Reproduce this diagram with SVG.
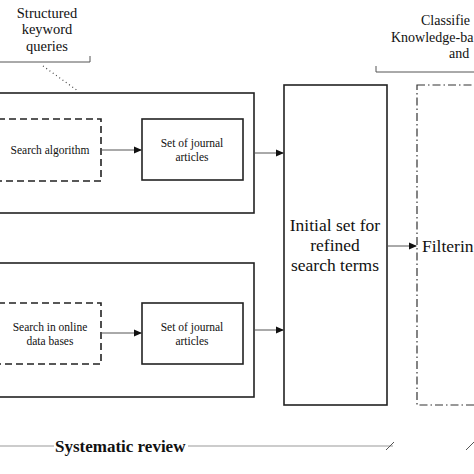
<svg xmlns="http://www.w3.org/2000/svg" width="474" height="474" viewBox="0 0 474 474">
<style>
text{font-family:"Liberation Serif","Times New Roman",serif;fill:#111}
.box{fill:#fff;stroke:#222;stroke-width:1.6}
.sm{font-size:11.5px}
.dash{fill:#fff;stroke:#222;stroke-width:1.6;stroke-dasharray:7,4}
.dd{fill:#fff;stroke:#333;stroke-width:1.2;stroke-dasharray:8,3,1.5,3}
.ln{stroke:#555;stroke-width:1;fill:none}
.thin{stroke:#999;stroke-width:1;fill:none}
</style>
<defs>
<marker id="ah" markerWidth="8" markerHeight="8" refX="7" refY="4" orient="auto" markerUnits="userSpaceOnUse">
<path d="M0,0.5 L8,4 L0,7.5 Z" fill="#111"/>
</marker>
</defs>
<rect width="474" height="474" fill="#fff"/>
<g id="annot-left">
<text x="47" y="18" font-size="14.5" text-anchor="middle">Structured</text>
<text x="47" y="34" font-size="14.5" text-anchor="middle">keyword</text>
<text x="47" y="51" font-size="14.5" text-anchor="middle">queries</text>
<path d="M0,62 H90 V56" class="ln" stroke="#222"/>
<path d="M43,66 L78,91" stroke="#444" stroke-width="1.2" stroke-dasharray="1,3" fill="none"/>
</g>
<g id="annot-right">
<text x="421" y="25" font-size="14">Classifie</text>
<text x="391" y="42" font-size="14">Knowledge-ba</text>
<text x="449" y="58" font-size="14">and</text>
<path d="M376,66 V72 H474" class="ln" stroke="#222"/>
</g>
<g id="top-group"><rect x="-2" y="93" width="256" height="120" class="box"/></g>
<g id="search-algorithm"><rect x="-2" y="119" width="103" height="62" class="dash"/>
<text x="50" y="154" class="sm" text-anchor="middle">Search algorithm</text></g>
<g id="set-top"><rect x="142" y="119" width="101" height="61" class="box" stroke-width="1.2"/>
<text x="192" y="147" class="sm" text-anchor="middle">Set of journal</text>
<text x="192" y="161" class="sm" text-anchor="middle">articles</text></g>
<g id="bottom-group"><rect x="-2" y="263" width="256" height="134" class="box"/></g>
<g id="search-online"><rect x="-2" y="303" width="103" height="61" class="dash"/>
<text x="50" y="331" class="sm" text-anchor="middle">Search in online</text>
<text x="50" y="345" class="sm" text-anchor="middle">data bases</text></g>
<g id="set-bottom"><rect x="142" y="303" width="101" height="61" class="box" stroke-width="1.2"/>
<text x="192" y="331" class="sm" text-anchor="middle">Set of journal</text>
<text x="192" y="345" class="sm" text-anchor="middle">articles</text></g>
<g id="initial-set"><rect x="284" y="85" width="103" height="320" class="box"/>
<text x="335" y="231" font-size="17.5" text-anchor="middle">Initial set for</text>
<text x="335" y="251" font-size="17.5" text-anchor="middle">refined</text>
<text x="335" y="271" font-size="17.5" text-anchor="middle">search terms</text></g>
<g id="filtering"><rect x="417" y="85" width="70" height="320" class="dd"/>
<text x="422" y="252" font-size="17.5">Filtering</text></g>
<g id="connectors">
<line x1="101" y1="150" x2="141" y2="150" class="ln" marker-end="url(#ah)"/>
<line x1="255" y1="153" x2="283" y2="153" class="ln" marker-end="url(#ah)"/>
<line x1="101" y1="333" x2="141" y2="333" class="ln" marker-end="url(#ah)"/>
<line x1="255" y1="330" x2="283" y2="330" class="ln" marker-end="url(#ah)"/>
<line x1="388" y1="246" x2="416" y2="246" class="ln" marker-end="url(#ah)"/>
</g>
<g id="timeline">
<line x1="0" y1="446" x2="54" y2="446" class="thin"/>
<text x="55" y="452" font-size="17" font-weight="bold">Systematic review</text>
<line x1="188" y1="446" x2="393" y2="446" class="thin"/>
<line x1="386" y1="450" x2="394" y2="442" class="ln"/>
<line x1="466" y1="450" x2="474" y2="442" class="ln"/>
</g>
</svg>
